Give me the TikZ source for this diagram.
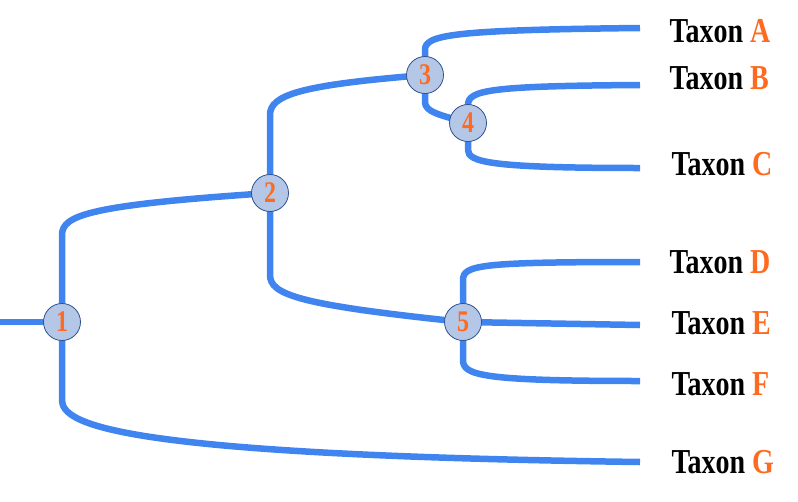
\documentclass[tikz,border=0pt]{standalone}
\usepackage{fontspec}
\setmainfont{Liberation Serif}[FakeStretch=0.8]
\begin{document}
\definecolor{br}{RGB}{64,132,240}
\definecolor{nf}{RGB}{180,199,231}
\definecolor{nb}{RGB}{47,82,143}
\definecolor{or}{RGB}{255,106,33}
\begin{tikzpicture}[x=1pt,y=-1pt,
  branch/.style={draw=br,line width=6.5pt},
  nd/.style={circle,fill=nf,draw=nb,line width=0.8pt,minimum size=37pt,inner sep=0pt,font=\bfseries\fontsize{30}{30}\selectfont,text=or},
  tx/.style={font=\bfseries\fontsize{35}{35}\selectfont,anchor=west}]
\useasboundingbox (0,0) rectangle (798,501);
\coordinate (r) at (0,322);
\coordinate (tA) at (640,28);
\coordinate (tB) at (640,85);
\coordinate (tC) at (640,168);
\coordinate (tD) at (640,262);
\coordinate (tE) at (640,325);
\coordinate (tF) at (640,381);
\coordinate (tG) at (640,462);
\coordinate (n1) at (62,322);
\coordinate (n2) at (270,193);
\coordinate (n3) at (425,75);
\coordinate (n4) at (468,123);
\coordinate (n5) at (463,322);
\begin{scope}[branch]
\draw (r) -- (n1);
\draw (n1) -- (62,235) .. controls (62,215) and (90,205) .. (n2);
\draw (n1) -- (62,400) .. controls (62,425) and (120,455) .. (tG);
\draw (n2) -- (270,115) .. controls (270,95) and (300,85) .. (n3);
\draw (n2) -- (270,275) .. controls (270,295) and (300,305) .. (n5);
\draw (n3) -- (425,50) .. controls (425,35) and (450,30) .. (tA);
\draw (n3) -- (425,102) .. controls (425,112) and (440,115) .. (n4);
\draw (n4) -- (468,105) .. controls (468,90) and (490,86) .. (tB);
\draw (n4) -- (468,150) .. controls (468,162) and (490,168) .. (tC);
\draw (n5) -- (463,280) .. controls (463,265) and (480,262) .. (tD);
\draw (n5) -- (tE);
\draw (n5) -- (463,360) .. controls (463,375) and (480,381) .. (tF);
\end{scope}
\node[nd] (N1) at (n1) {1};
\node[nd] (N2) at (n2) {2};
\node[nd] (N3) at (n3) {3};
\node[nd] (N4) at (n4) {4};
\node[nd] (N5) at (n5) {5};
\node[tx] (A) at (666,31) {Taxon \textcolor{or}{A}};
\node[tx] (B) at (666,78) {Taxon \textcolor{or}{B}};
\node[tx] (C) at (668,164) {Taxon \textcolor{or}{C}};
\node[tx] (D) at (666,262) {Taxon \textcolor{or}{D}};
\node[tx] (E) at (668,323) {Taxon \textcolor{or}{E}};
\node[tx] (F) at (668,384) {Taxon \textcolor{or}{F}};
\node[tx] (G) at (668,462) {Taxon \textcolor{or}{G}};
\end{tikzpicture}
\end{document}
